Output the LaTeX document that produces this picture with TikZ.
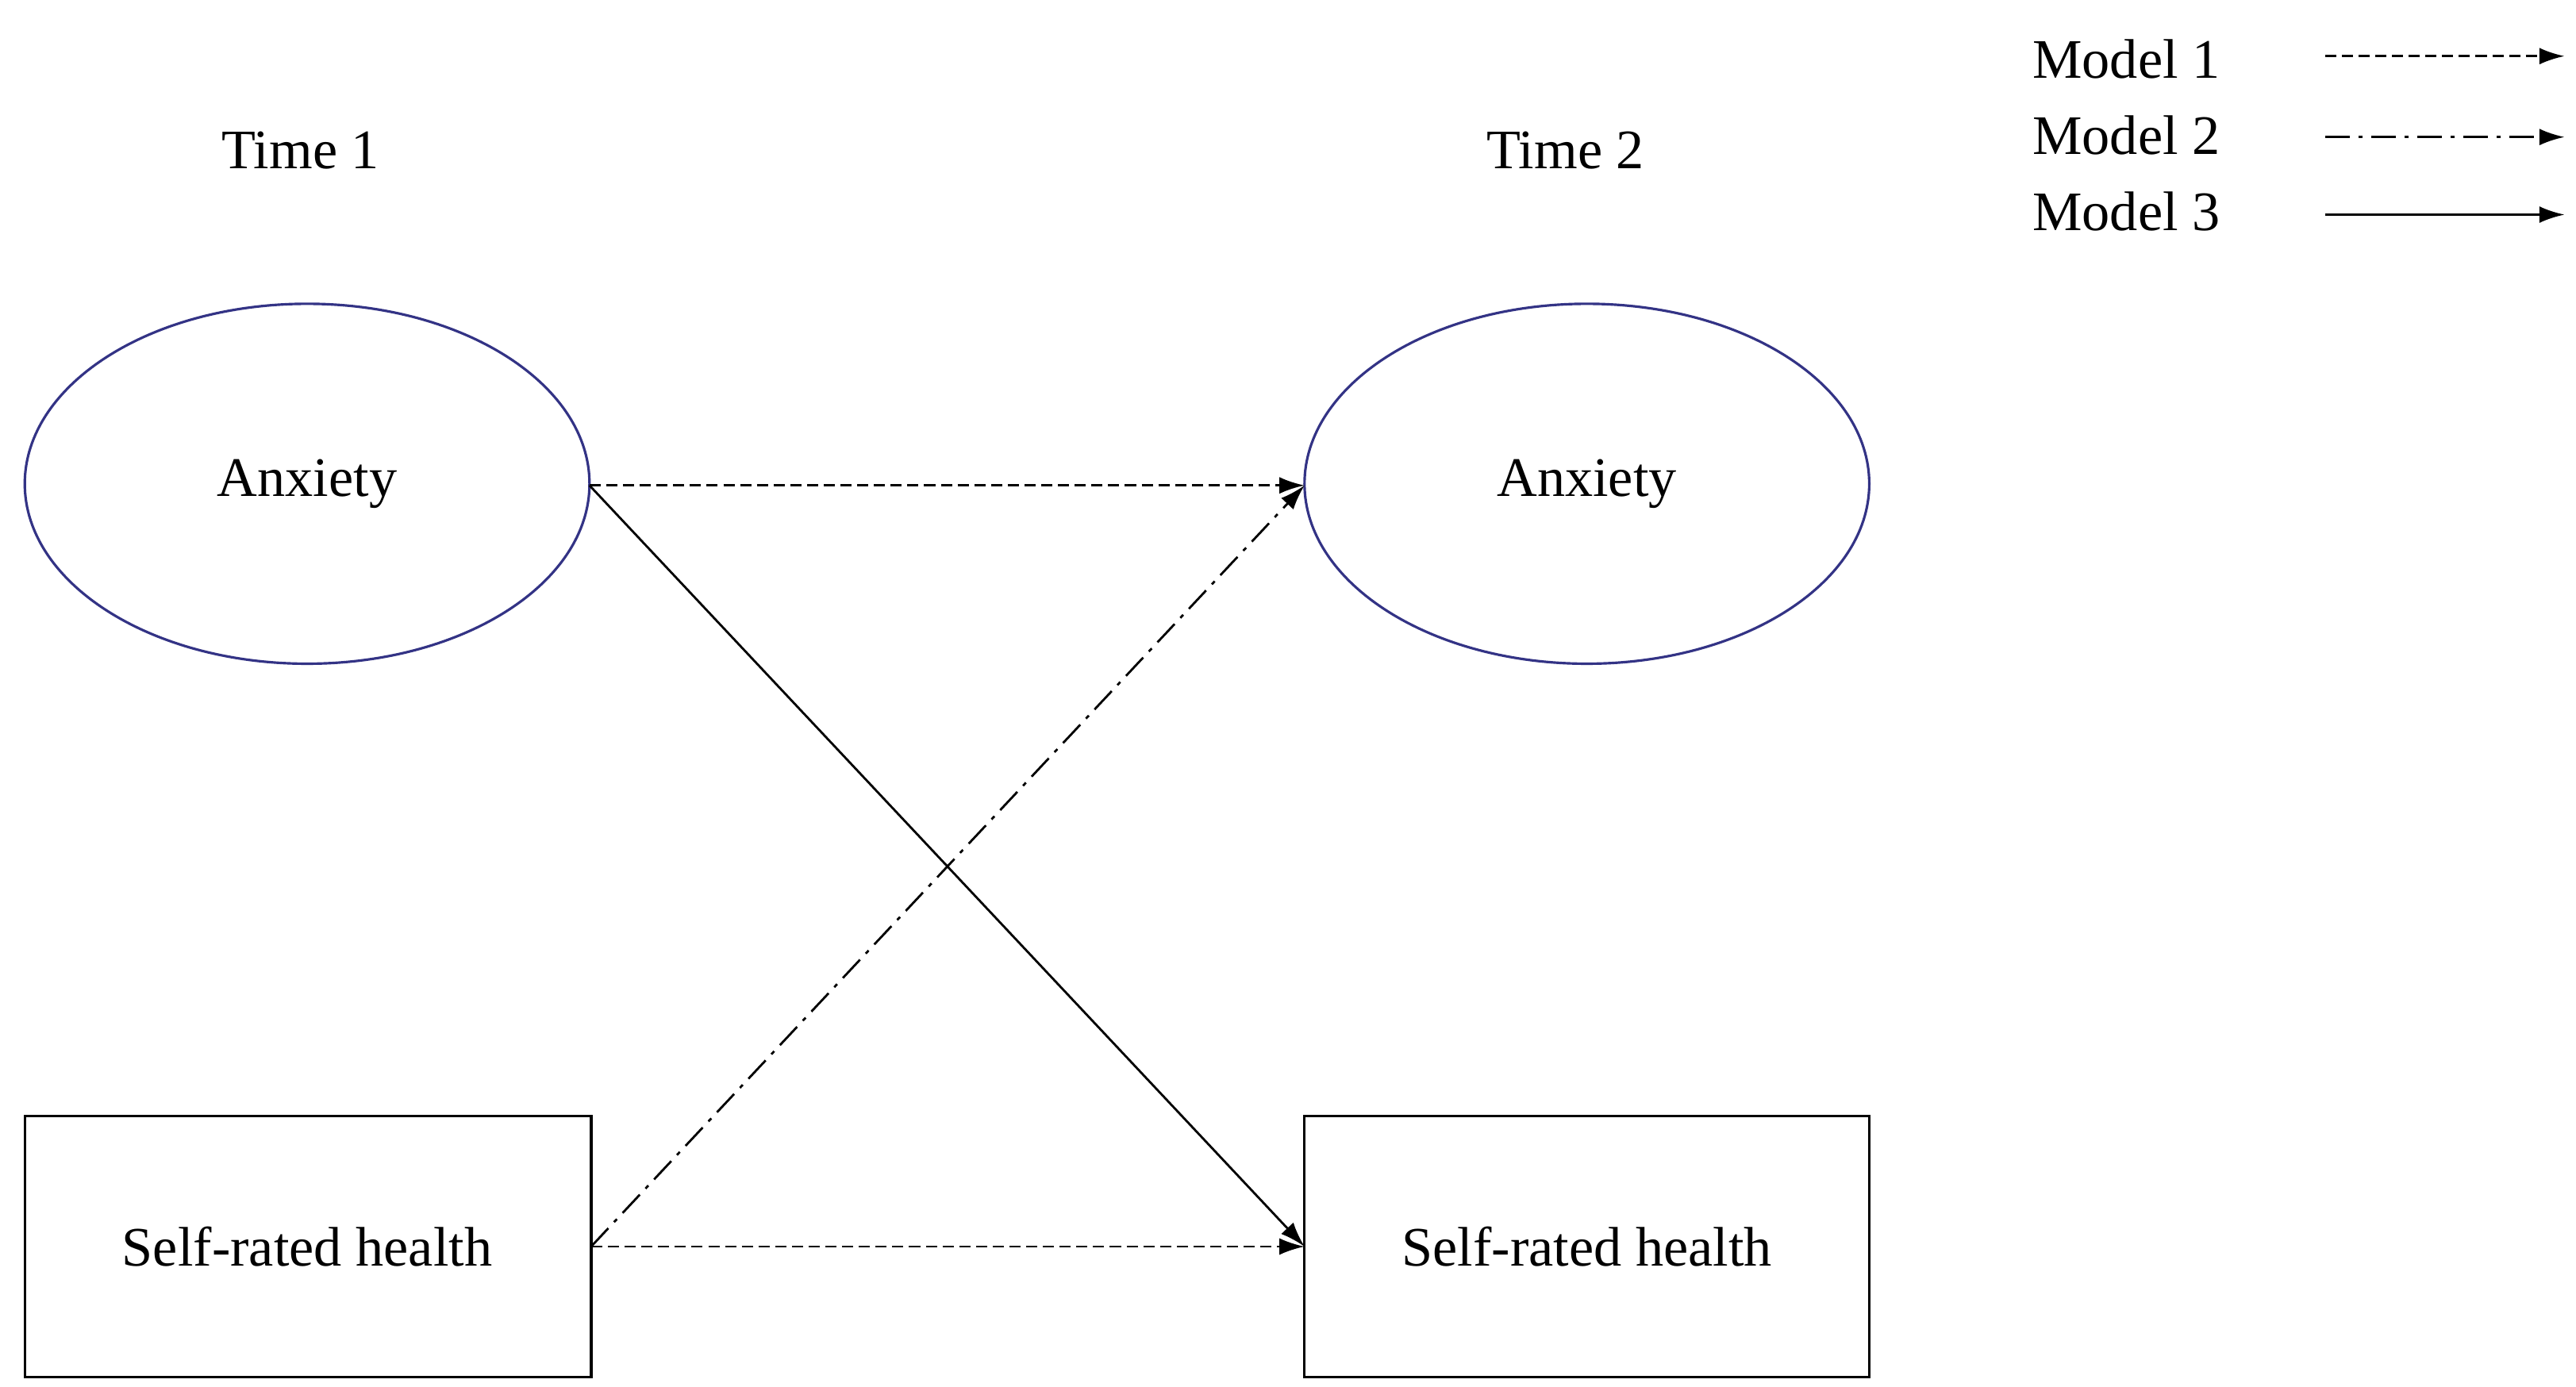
\documentclass[tikz,border=0pt]{standalone}
\usepackage{fontspec}
\setmainfont{Liberation Serif}
\usetikzlibrary{arrows.meta,shapes.geometric}
\begin{document}
\begin{tikzpicture}[x=0.020808cm,y=-0.020808cm,
  lbl/.style={font=\fontsize{20}{24}\selectfont},
  lat/.style={draw=blue!40!black!80, line width=0.9pt, ellipse, minimum width=342\pgflinewidth, inner sep=0},
  con/.style={-{Latex[length=9pt,width=6pt]}, line width=0.8pt},
  dsh/.style={dash pattern=on 4pt off 2pt},
  dd/.style={dash pattern=on 9pt off 3pt on 1.5pt off 3pt}]
\useasboundingbox (0,0) rectangle (1560,840);
\node[lbl] (t1) at (182,91) {Time 1};
\node[lbl] (t2) at (948,91) {Time 2};
\draw[blue!40!black!80, line width=0.9pt] (186,293) ellipse [x radius=171, y radius=109];
\draw[blue!40!black!80, line width=0.9pt] (961,293) ellipse [x radius=171, y radius=109];
\node[lbl] (a1) at (186,293) {Anxiety};
\node[lbl] (a2) at (961,293) {Anxiety};
\coordinate (a1e) at (357,294);
\coordinate (a2w) at (790,294);
\draw[line width=0.9pt] (15,676) rectangle (358,834);
\draw[line width=0.9pt] (790,676) rectangle (1132,834);
\node[lbl] (s1) at (186,755) {Self-rated health};
\node[lbl] (s2) at (961,755) {Self-rated health};
\coordinate (s1e) at (358,755);
\coordinate (s2w) at (790,755);
\draw[con,dsh] (a1e) -- (a2w);
\draw[con] (a1e) -- (s2w);
\draw[con,dd] (s1e) -- (a2w);
\draw[con,dsh] (s1e) -- (s2w);
\node[lbl,anchor=west] (m1) at (1225,36) {Model 1};
\node[lbl,anchor=west] (m2) at (1225,82) {Model 2};
\node[lbl,anchor=west] (m3) at (1225,128) {Model 3};
\coordinate (l1a) at (1408,34); \coordinate (l1b) at (1553,34);
\coordinate (l2a) at (1408,83); \coordinate (l2b) at (1553,83);
\coordinate (l3a) at (1408,130); \coordinate (l3b) at (1553,130);
\draw[con,dsh] (l1a) -- (l1b);
\draw[con,dd] (l2a) -- (l2b);
\draw[con] (l3a) -- (l3b);
\end{tikzpicture}
\end{document}
